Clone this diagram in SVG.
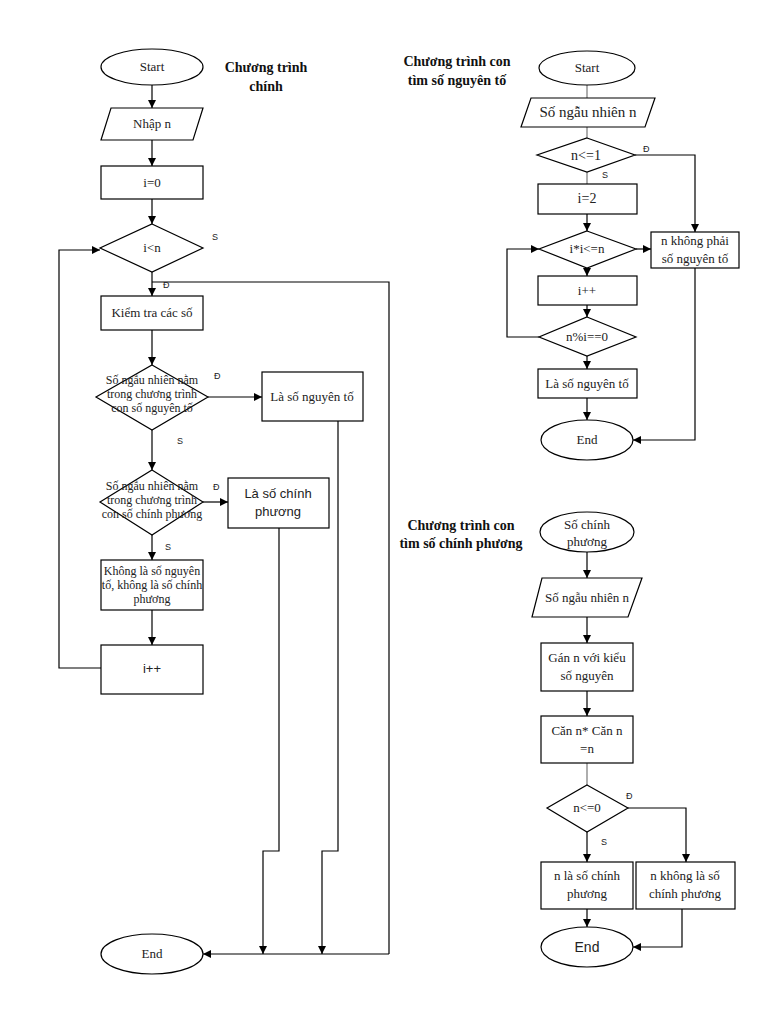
<svg xmlns="http://www.w3.org/2000/svg" width="768" height="1024" viewBox="0 0 768 1024">
<style>
.s{fill:#fff;stroke:#000;stroke-width:1.2}
.t{font-family:"Liberation Serif","Times New Roman",serif;font-size:13px;text-anchor:middle;fill:#222}
.ts{font-family:"Liberation Sans",sans-serif;font-size:13px;text-anchor:middle;fill:#222}
.lb{font-family:"Liberation Sans",sans-serif;font-size:9px;fill:#222}
.h{font-family:"Liberation Serif","Times New Roman",serif;font-size:14px;font-weight:bold;text-anchor:middle;fill:#111}
.c{fill:none;stroke:#000;stroke-width:1.2}
.g{fill:none;stroke:#777;stroke-width:1.2}
</style>
<defs><marker id="a" viewBox="0 0 10 10" refX="10" refY="5" markerWidth="7" markerHeight="7" orient="auto"><path d="M0,0L10,5L0,10z" fill="#000"/></marker></defs>
<g id="titles">
<text class="h" x="266" y="72">Chương trình</text><text class="h" x="266" y="91">chính</text>
<text class="h" x="457" y="66">Chương trình con</text><text class="h" x="457" y="85">tìm số nguyên tố</text>
<text class="h" x="461" y="530">Chương trình con</text><text class="h" x="461" y="548">tìm số chính phương</text>
</g>
<g id="connectors">
<path class="c" marker-end="url(#a)" d="M152,85V108"/>
<path class="c" marker-end="url(#a)" d="M152,140V166"/>
<path class="c" marker-end="url(#a)" d="M152,199V224"/>
<path class="c" marker-end="url(#a)" d="M152,272V296"/>
<path class="c" d="M152,282H389V954"/>
<path class="c" marker-end="url(#a)" d="M101,668H59V250H100"/>
<path class="c" marker-end="url(#a)" d="M152,330V365"/>
<path class="c" marker-end="url(#a)" d="M208,397H262"/>
<path class="c" marker-end="url(#a)" d="M152,430V470"/>
<path class="c" marker-end="url(#a)" d="M203,502H228"/>
<path class="c" marker-end="url(#a)" d="M152,535V560"/>
<path class="c" marker-end="url(#a)" d="M152,610V645"/>
<path class="c" marker-end="url(#a)" d="M279,528V851H263V954"/>
<path class="c" marker-end="url(#a)" d="M338,421V851H322V954"/>
<path class="c" marker-end="url(#a)" d="M389,954H203"/>
<path class="g" d="M587,85V98M587,127V138M587,172V184"/>
<path class="c" marker-end="url(#a)" d="M635,155H695V232"/>
<path class="c" marker-end="url(#a)" d="M587,214V231"/>
<path class="c" marker-end="url(#a)" d="M636,249H651"/>
<path class="c" marker-end="url(#a)" d="M587,268V276"/>
<path class="c" marker-end="url(#a)" d="M587,305V317"/>
<path class="c" marker-end="url(#a)" d="M539,337H507V249H539"/>
<path class="c" marker-end="url(#a)" d="M587,356V369"/>
<path class="c" marker-end="url(#a)" d="M587,398V420"/>
<path class="c" marker-end="url(#a)" d="M695,268V440H633"/>
<path class="c" marker-end="url(#a)" d="M587,550V578"/>
<path class="c" marker-end="url(#a)" d="M587,617V643"/>
<path class="c" marker-end="url(#a)" d="M587,691V716"/>
<path class="g" d="M587,763V785"/>
<path class="c" marker-end="url(#a)" d="M628,808H686V862"/>
<path class="c" marker-end="url(#a)" d="M587,832V862"/>
<path class="c" marker-end="url(#a)" d="M587,909V927"/>
<path class="c" marker-end="url(#a)" d="M682,909V947H633"/>
<text class="lb" x="212" y="240">S</text><text class="lb" x="163" y="288">Đ</text>
<text class="lb" x="214" y="379">Đ</text><text class="lb" x="177" y="444">S</text>
<text class="lb" x="213" y="490">Đ</text><text class="lb" x="165" y="550">S</text>
<text class="lb" x="643" y="152">Đ</text><text class="lb" x="602" y="178">S</text>
<text class="lb" x="626" y="799">Đ</text><text class="lb" x="601" y="845">S</text>
</g>
<g id="start1"><ellipse class="s" cx="152" cy="67" rx="51" ry="18"/><text class="t" x="152" y="71">Start</text></g>
<g id="input1"><path class="s" d="M111,108H203L193,140H101Z"/><text class="t" x="152" y="128">Nhập n</text></g>
<g id="i0"><rect class="s" x="101" y="166" width="102" height="33"/><text class="t" x="152" y="187">i=0</text></g>
<g id="cond1"><path class="s" d="M152,224L203,248L152,272L100,248Z"/><text class="t" x="152" y="252">i&lt;n</text></g>
<g id="check"><rect class="s" x="101" y="296" width="102" height="34"/><text class="t" x="152" y="317">Kiểm tra các số</text></g>
<g id="d1"><path class="s" d="M152,365L208,397L152,430L96,397Z"/><text class="t" x="152" y="384" style="font-size:12px">Số ngẫu nhiên nằm</text><text class="t" x="152" y="398" style="font-size:12px">trong chương trình</text><text class="t" x="152" y="412" style="font-size:12px">con số nguyên tố</text></g>
<g id="prime"><rect class="s" x="262" y="372" width="101" height="49"/><text class="t" x="312" y="401">Là số nguyên tố</text></g>
<g id="d2"><path class="s" d="M152,470L203,502L152,535L100,502Z"/><text class="t" x="152" y="490" style="font-size:12px">Số ngẫu nhiên nằm</text><text class="t" x="152" y="504" style="font-size:12px">trong chương trình</text><text class="t" x="152" y="518" style="font-size:12px">con số chính phương</text></g>
<g id="square"><rect class="s" x="228" y="478" width="101" height="50"/><text class="ts" x="278" y="498">Là số chính</text><text class="ts" x="278" y="516">phương</text></g>
<g id="neither"><rect class="s" x="101" y="560" width="102" height="50"/><text class="t" x="152" y="575" style="font-size:12px">Không là số nguyên</text><text class="t" x="152" y="589" style="font-size:12px">tố, không là số chính</text><text class="t" x="152" y="603" style="font-size:12px">phương</text></g>
<g id="inc1"><rect class="s" x="101" y="645" width="102" height="49"/><text class="ts" x="152" y="673">i++</text></g>
<g id="end1"><ellipse class="s" cx="152" cy="954" rx="51" ry="20"/><text class="t" x="152" y="958">End</text></g>
<g id="start2"><ellipse class="s" cx="587" cy="68" rx="48" ry="17"/><text class="t" x="587" y="72">Start</text></g>
<g id="input2"><path class="s" d="M531,98H655L645,127H521Z"/><text class="t" x="588" y="117" style="font-size:15px">Số ngẫu nhiên n</text></g>
<g id="c21"><path class="s" d="M587,138L635,155L587,172L537,155Z"/><text class="t" x="586" y="160" style="font-size:14px">n&lt;=1</text></g>
<g id="i2"><rect class="s" x="538" y="184" width="99" height="30"/><text class="t" x="587" y="203" style="font-size:14px">i=2</text></g>
<g id="c22"><path class="s" d="M587,231L636,249L587,268L539,249Z"/><text class="t" x="587" y="253">i*i&lt;=n</text></g>
<g id="notprime"><rect class="s" x="651" y="232" width="88" height="36"/><text class="t" x="695" y="245">n không phải</text><text class="t" x="695" y="263">số nguyên tố</text></g>
<g id="inc2"><rect class="s" x="538" y="276" width="99" height="29"/><text class="t" x="587" y="295">i++</text></g>
<g id="c23"><path class="s" d="M587,317L636,337L587,356L539,337Z"/><text class="t" x="587" y="341">n%i==0</text></g>
<g id="isprime"><rect class="s" x="538" y="369" width="99" height="29"/><text class="t" x="587" y="388">Là số nguyên tố</text></g>
<g id="end2"><ellipse class="s" cx="587" cy="440" rx="46" ry="20"/><text class="t" x="587" y="444">End</text></g>
<g id="start3"><ellipse class="s" cx="587" cy="532" rx="47" ry="20"/><text class="t" x="587" y="529">Số chính</text><text class="t" x="587" y="546">phương</text></g>
<g id="input3"><path class="s" d="M542,578H642L628,617H532Z"/><text class="t" x="587" y="602">Số ngẫu nhiên n</text></g>
<g id="assign"><rect class="s" x="541" y="643" width="92" height="48"/><text class="t" x="587" y="662">Gán n với kiểu</text><text class="t" x="587" y="680">số nguyên</text></g>
<g id="sqrt"><rect class="s" x="541" y="716" width="92" height="47"/><text class="t" x="587" y="735">Căn n* Căn n</text><text class="t" x="587" y="753">=n</text></g>
<g id="c31"><path class="s" d="M587,785L628,808L587,832L547,808Z"/><text class="t" x="587" y="812">n&lt;=0</text></g>
<g id="issq"><rect class="s" x="541" y="862" width="92" height="47"/><text class="t" x="587" y="880">n là số chính</text><text class="t" x="587" y="898">phương</text></g>
<g id="notsq"><rect class="s" x="636" y="862" width="99" height="47"/><text class="t" x="685" y="880">n không là số</text><text class="t" x="685" y="898">chính phương</text></g>
<g id="end3"><ellipse class="s" cx="587" cy="947" rx="46" ry="20"/><text class="ts" x="587" y="952" style="font-size:14px">End</text></g>
</svg>
